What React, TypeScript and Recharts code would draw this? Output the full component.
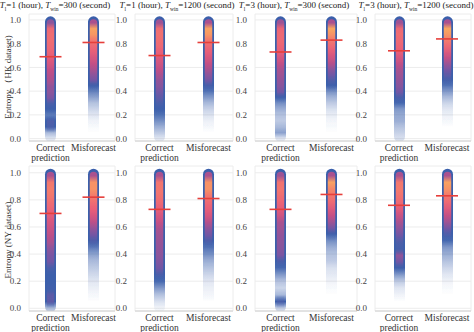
import React from 'react'
import {
  ComposedChart,
  Bar,
  Scatter,
  XAxis,
  YAxis,
  CartesianGrid,
} from 'recharts'

// entropy levels at which the strip density is read (bottom -> top)
const LEVELS = [0, 0.05, 0.1, 0.15, 0.2, 0.25, 0.3, 0.35, 0.4, 0.45, 0.5, 0.55, 0.6, 0.65, 0.7, 0.75, 0.8, 0.85, 0.9, 0.95, 1.0]
const CATEGORIES = ['Correct prediction', 'Misforecast']
const Y_TICKS = [0, 0.2, 0.4, 0.6, 0.8, 1.0]
const STRIP_SPAN = [-0.03, 1.03]

const TITLES = [
  { tl: '1', tw: '300' },
  { tl: '1', tw: '1200' },
  { tl: '3', tw: '300' },
  { tl: '3', tw: '1200' },
]
const ROW_LABELS = ['Entropy （HK dataset)', 'Entropy (NY dataset)']

// HK dataset
const HK_1_300_CORRECT = [0.1, 0.22, 0.45, 0.46, 0.36, 0.42, 0.45, 0.52, 0.55, 0.56, 0.6, 0.62, 0.65, 0.7, 0.74, 0.78, 0.8, 0.82, 0.82, 0.8, 0.55]
const HK_1_300_MISS = [0, 0, 0.03, 0.06, 0.1, 0.15, 0.2, 0.28, 0.35, 0.42, 0.5, 0.55, 0.6, 0.65, 0.7, 0.75, 0.8, 0.86, 0.93, 0.95, 0.6]
const HK_1_1200_CORRECT = [0.1, 0.18, 0.25, 0.32, 0.38, 0.42, 0.45, 0.48, 0.5, 0.54, 0.56, 0.6, 0.64, 0.68, 0.72, 0.76, 0.8, 0.82, 0.83, 0.82, 0.58]
const HK_1_1200_MISS = [0, 0, 0.04, 0.07, 0.11, 0.16, 0.22, 0.3, 0.38, 0.44, 0.5, 0.55, 0.6, 0.65, 0.7, 0.75, 0.8, 0.86, 0.93, 0.95, 0.6]
const HK_3_300_CORRECT = [0.1, 0.28, 0.22, 0.18, 0.2, 0.25, 0.32, 0.42, 0.5, 0.54, 0.56, 0.58, 0.6, 0.64, 0.7, 0.75, 0.78, 0.8, 0.8, 0.78, 0.58]
const HK_3_300_MISS = [0, 0, 0.03, 0.05, 0.08, 0.12, 0.18, 0.24, 0.32, 0.42, 0.46, 0.5, 0.55, 0.62, 0.68, 0.74, 0.8, 0.86, 0.92, 0.96, 0.6]
const HK_3_1200_CORRECT = [0.12, 0.16, 0.2, 0.25, 0.26, 0.3, 0.4, 0.45, 0.5, 0.54, 0.56, 0.58, 0.6, 0.64, 0.7, 0.75, 0.78, 0.8, 0.82, 0.8, 0.58]
const HK_3_1200_MISS = [0, 0, 0, 0.04, 0.07, 0.1, 0.15, 0.22, 0.3, 0.38, 0.44, 0.48, 0.52, 0.58, 0.65, 0.72, 0.8, 0.87, 0.93, 0.97, 0.6]

// NY dataset
const NY_1_300_CORRECT = [0.2, 0.48, 0.48, 0.43, 0.42, 0.42, 0.45, 0.5, 0.52, 0.55, 0.6, 0.63, 0.66, 0.7, 0.74, 0.78, 0.82, 0.86, 0.88, 0.86, 0.6]
const NY_1_300_MISS = [0, 0, 0.04, 0.07, 0.1, 0.14, 0.18, 0.22, 0.28, 0.36, 0.45, 0.5, 0.56, 0.63, 0.7, 0.76, 0.82, 0.88, 0.92, 0.92, 0.6]
const NY_1_1200_CORRECT = [0.05, 0.12, 0.2, 0.3, 0.4, 0.45, 0.5, 0.53, 0.55, 0.56, 0.57, 0.58, 0.6, 0.65, 0.7, 0.75, 0.8, 0.84, 0.86, 0.85, 0.6]
const NY_1_1200_MISS = [0, 0, 0.05, 0.07, 0.1, 0.15, 0.2, 0.25, 0.32, 0.38, 0.45, 0.5, 0.55, 0.62, 0.7, 0.75, 0.8, 0.86, 0.92, 0.92, 0.6]
const NY_3_300_CORRECT = [0.15, 0.45, 0.22, 0.15, 0.2, 0.3, 0.4, 0.45, 0.52, 0.54, 0.55, 0.56, 0.58, 0.6, 0.68, 0.74, 0.78, 0.82, 0.85, 0.84, 0.58]
const NY_3_300_MISS = [0, 0, 0, 0.03, 0.06, 0.09, 0.12, 0.18, 0.2, 0.25, 0.32, 0.42, 0.5, 0.58, 0.65, 0.72, 0.8, 0.86, 0.9, 0.95, 0.6]
const NY_3_1200_CORRECT = [0, 0, 0.06, 0.1, 0.18, 0.3, 0.42, 0.5, 0.56, 0.44, 0.46, 0.5, 0.55, 0.6, 0.66, 0.74, 0.8, 0.84, 0.87, 0.86, 0.6]
const NY_3_1200_MISS = [0, 0, 0, 0.03, 0.06, 0.1, 0.15, 0.2, 0.25, 0.3, 0.4, 0.45, 0.5, 0.58, 0.65, 0.72, 0.8, 0.86, 0.92, 0.95, 0.6]

// medians (red bars): [correct, misforecast]
const HK_MEDIANS = [[0.69, 0.81], [0.7, 0.81], [0.73, 0.83], [0.74, 0.84]]
const NY_MEDIANS = [[0.7, 0.82], [0.73, 0.81], [0.73, 0.84], [0.76, 0.83]]

const HK_STRIPS = [
  [HK_1_300_CORRECT, HK_1_300_MISS],
  [HK_1_1200_CORRECT, HK_1_1200_MISS],
  [HK_3_300_CORRECT, HK_3_300_MISS],
  [HK_3_1200_CORRECT, HK_3_1200_MISS],
]
const NY_STRIPS = [
  [NY_1_300_CORRECT, NY_1_300_MISS],
  [NY_1_1200_CORRECT, NY_1_1200_MISS],
  [NY_3_300_CORRECT, NY_3_300_MISS],
  [NY_3_1200_CORRECT, NY_3_1200_MISS],
]

// layout
const COLS = [
  { x0: 28.5, w: 86, titleX: 55 },
  { x0: 134.5, w: 98, titleX: 177 },
  { x0: 254.5, w: 102, titleX: 294 },
  { x0: 375, w: 96, titleX: 416 },
]
const ROWS = [
  { top: 14, h: 125, labelY: 77 },
  { top: 166, h: 143, labelY: 240 },
]
const YW = 30
const MT = 2
const FONT = "'Liberation Serif', 'Times New Roman', Times, serif"

const BLUE = '#3a5fab'
const HEAT: [number, string][] = [
  [0.4, '#3f62ac'],
  [0.52, '#7a55a2'],
  [0.64, '#c24f86'],
  [0.76, '#ea5f78'],
  [0.88, '#f47c6c'],
  [0.96, '#f9a760'],
]

const hex = (c: string) => [1, 3, 5].map((i) => parseInt(c.slice(i, i + 2), 16))
function heat(v: number) {
  if (v <= HEAT[0][0]) return HEAT[0][1]
  for (let i = 1; i < HEAT.length; i++) {
    if (v <= HEAT[i][0]) {
      const t = (v - HEAT[i - 1][0]) / (HEAT[i][0] - HEAT[i - 1][0])
      const a = hex(HEAT[i - 1][1])
      const b = hex(HEAT[i][1])
      return `rgb(${a.map((x, k) => Math.round(x + (b[k] - x) * t)).join(',')})`
    }
  }
  return HEAT[HEAT.length - 1][1]
}
const clamp = (v: number) => Math.max(0, Math.min(1, v))

function StripShape(props: any) {
  const { x, y, width, height, payload, gid } = props
  const dens: number[] = payload.dens
  const [lo, hi] = payload.span
  const cx = x + width / 2
  const off = (lv: number) => (hi - lv) / (hi - lo)
  const outerW = 11
  const coreW = 7.5
  const stops = LEVELS.map((lv, i) => ({ lv, v: dens[i] })).reverse()
  return (
    <g filter={`url(#blur-${gid})`}>
      <defs>
        <filter id={`blur-${gid}`} x="-100%" y="-10%" width="300%" height="120%">
          <feGaussianBlur stdDeviation="0.75" />
        </filter>
        <linearGradient id={`o-${gid}`} x1="0" y1="0" x2="0" y2="1">
          {stops.map((s, i) => (
            <stop key={i} offset={off(s.lv)} stopColor={BLUE} stopOpacity={Math.pow(clamp(s.v / 0.42), 1.3)} />
          ))}
        </linearGradient>
        <linearGradient id={`c-${gid}`} x1="0" y1="0" x2="0" y2="1">
          {stops.map((s, i) => (
            <stop key={i} offset={off(s.lv)} stopColor={heat(s.v)} stopOpacity={clamp((s.v - 0.4) / 0.1)} />
          ))}
        </linearGradient>
      </defs>
      <rect x={cx - outerW / 2} y={y} width={outerW} height={height} rx={outerW / 2} fill={`url(#o-${gid})`} />
      <rect x={cx - coreW / 2} y={y + 3} width={coreW} height={height - 3} rx={coreW / 2} fill={`url(#c-${gid})`} />
    </g>
  )
}

function MedianShape(props: any) {
  const { cx, cy } = props
  return <line x1={cx - 11} x2={cx + 11} y1={cy} y2={cy} stroke="#e63f3b" strokeWidth={1.6} />
}

function CatTick(props: any) {
  const { x, y, payload } = props
  const parts = String(payload.value).split(' ')
  return (
    <text x={x} y={y} textAnchor="middle" fontFamily={FONT} fontSize={9.5} fill="#333">
      {parts.map((p, i) => (
        <tspan key={i} x={x} dy={i === 0 ? 2 : 9.5}>{p}</tspan>
      ))}
    </text>
  )
}

function Panel({ row, col, strips, medians }: { row: number; col: number; strips: number[][]; medians: number[] }) {
  const c = COLS[col]
  const r = ROWS[row]
  const data = CATEGORIES.map((cat, i) => ({
    cat,
    span: STRIP_SPAN,
    dens: strips[i],
    median: medians[i],
  }))
  const width = YW + c.w + 2
  const height = MT + r.h + 26
  const gid = `${row}-${col}`
  return (
    <div style={{ position: 'absolute', left: c.x0 - YW, top: r.top - MT }}>
      <ComposedChart width={width} height={height} data={data} margin={{ top: MT, right: 2, left: 0, bottom: 0 }}>
        <CartesianGrid stroke="#ececec" vertical={true} verticalPoints={[YW, YW + c.w]} />
        <XAxis dataKey="cat" tick={<CatTick />} tickLine={false} axisLine={{ stroke: '#d0d0d0' }} height={24} interval={0} />
        <YAxis
          domain={[-0.02, 1.05]}
          allowDataOverflow
          ticks={Y_TICKS}
          tickFormatter={(v) => Number(v).toFixed(1)}
          tick={{ fontSize: 9, fill: '#444', fontFamily: FONT }}
          tickLine={false}
          axisLine={false}
          width={YW}
        />
        <Bar
          dataKey="span"
          barSize={11}
          isAnimationActive={false}
          shape={(p: any) => <StripShape {...p} gid={`${gid}-${p.index}`} />}
        />
        <Scatter dataKey="median" isAnimationActive={false} shape={<MedianShape />} />
      </ComposedChart>
    </div>
  )
}

export default function App() {
  return (
    <div style={{ position: 'absolute', left: 0, top: 0, width: 474, height: 332, background: '#fff', overflow: 'hidden', fontFamily: FONT }}>
      {TITLES.map((t, i) => (
        <div
          key={i}
          style={{
            position: 'absolute',
            left: COLS[i].titleX - 60,
            width: 120,
            top: 0,
            lineHeight: '10px',
            textAlign: 'center',
            fontSize: 9,
            color: '#222',
            whiteSpace: 'nowrap',
          }}
        >
          <i>T</i><sub style={{ fontSize: 5.5, lineHeight: 0 }}>l</sub>={t.tl} (hour), <i>T</i><sub style={{ fontSize: 5.5, lineHeight: 0 }}>win</sub>={t.tw} (second)
        </div>
      ))}
      {ROW_LABELS.map((lab, i) => (
        <div
          key={i}
          style={{
            position: 'absolute',
            left: 8 - 60,
            top: ROWS[i].labelY - 6,
            width: 120,
            lineHeight: '12px',
            textAlign: 'center',
            fontSize: 9,
            color: '#333',
            transform: 'rotate(-90deg)',
            whiteSpace: 'nowrap',
          }}
        >
          {lab}
        </div>
      ))}
      {HK_STRIPS.map((s, i) => (
        <Panel key={`hk${i}`} row={0} col={i} strips={s} medians={HK_MEDIANS[i]} />
      ))}
      {NY_STRIPS.map((s, i) => (
        <Panel key={`ny${i}`} row={1} col={i} strips={s} medians={NY_MEDIANS[i]} />
      ))}
    </div>
  )
}
